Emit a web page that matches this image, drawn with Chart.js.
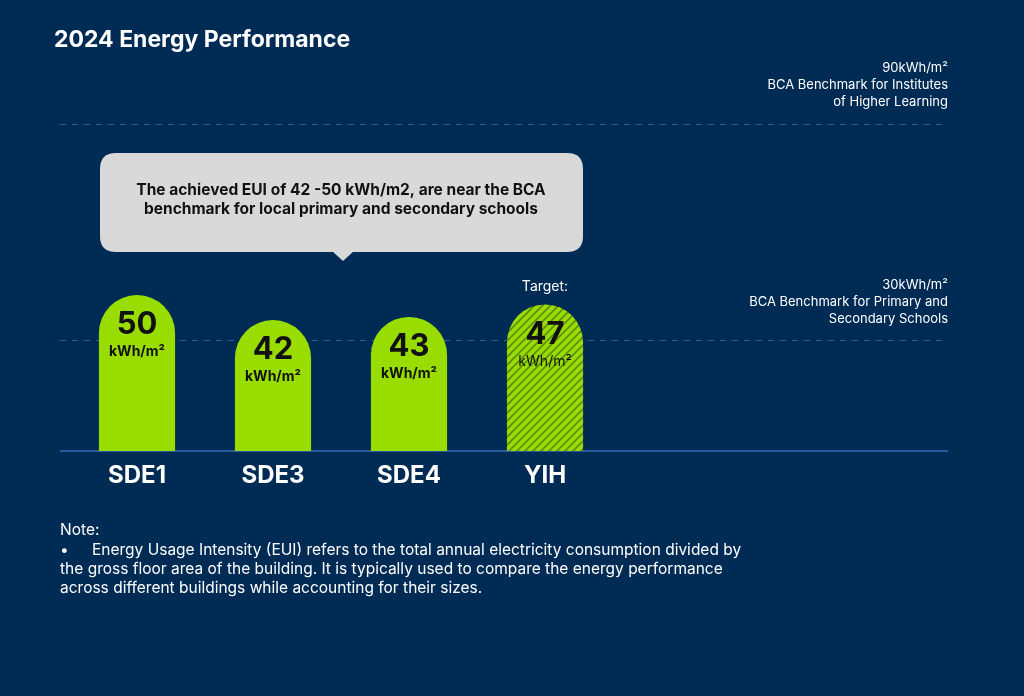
<!DOCTYPE html>
<html><head><meta charset="utf-8">
<script src="https://cdn.jsdelivr.net/npm/chart.js@4"></script>
<style>
body{margin:0;background:#002b55;}
#wrap{position:relative;width:1024px;height:696px;}
</style></head>
<body><div id="wrap"><canvas id="c" width="1024" height="696"></canvas></div>
<script>
const categories = ["SDE1", "SDE3", "SDE4", "YIH"];
const euiValues = [50, 42, 43, 47];
const isTarget = [false, false, false, true];
const benchmarkValues = [90, 30];
const benchmarkPlotAt = [105, 35.5]; // where the line sits on the (non-linear) infographic scale
const benchmarkLabels = [
  ["BCA Benchmark for Institutes", "of Higher Learning"],
  ["BCA Benchmark for Primary and", "Secondary Schools"]
];
const calloutLines = ["The achieved EUI of 42 -50 kWh/m2, are near the BCA", "benchmark for local primary and secondary schools"];
const noteLines = [
  "Energy Usage Intensity (EUI) refers to the total annual electricity consumption divided by",
  "the gross floor area of the building. It is typically used to compare the energy performance",
  "across different buildings while accounting for their sizes."
];

const GREEN = "#99dd00";
const FONT = "Inter, 'Noto Sans', sans-serif";

// hatch for target bar
function hatch(){
  const p = document.createElement("canvas");
  p.width = 8; p.height = 8;
  const g = p.getContext("2d");
  g.fillStyle = GREEN; g.fillRect(0,0,8,8);
  g.strokeStyle = "#5f8a10"; g.lineWidth = 1.6;
  g.beginPath();
  g.moveTo(-2,10); g.lineTo(10,-2);
  g.moveTo(-2,2); g.lineTo(2,-2);
  g.moveTo(6,10); g.lineTo(10,6);
  g.stroke();
  return document.getElementById("c").getContext("2d").createPattern(p,"repeat");
}
const hatchPat = hatch();

function roundRect(ctx,x,y,w,h,r){
  ctx.beginPath();
  ctx.moveTo(x+r,y); ctx.lineTo(x+w-r,y); ctx.quadraticCurveTo(x+w,y,x+w,y+r);
  ctx.lineTo(x+w,y+h-r); ctx.quadraticCurveTo(x+w,y+h,x+w-r,y+h);
  ctx.lineTo(x+r,y+h); ctx.quadraticCurveTo(x,y+h,x,y+h-r);
  ctx.lineTo(x,y+r); ctx.quadraticCurveTo(x,y,x+r,y);
  ctx.closePath();
}

const decor = {
  id: "decor",
  beforeDatasetsDraw(chart){
    const ctx = chart.ctx, y = chart.scales.y;
    ctx.save();
    // baseline
    ctx.strokeStyle = "#2f6db5"; ctx.lineWidth = 1.5;
    ctx.beginPath(); ctx.moveTo(60, y.getPixelForValue(0)); ctx.lineTo(948, y.getPixelForValue(0)); ctx.stroke();
    // benchmark lines
    ctx.setLineDash([6,6]); ctx.strokeStyle = "#2a5e9c"; ctx.lineWidth = 1;
    benchmarkPlotAt.forEach(v=>{
      const py = Math.round(y.getPixelForValue(v))+0.5;
      ctx.beginPath(); ctx.moveTo(60,py); ctx.lineTo(948,py); ctx.stroke();
    });
    ctx.restore();
  },
  afterDatasetsDraw(chart){
    const ctx = chart.ctx, x = chart.scales.x, y = chart.scales.y;
    ctx.save();
    ctx.textAlign = "center"; ctx.textBaseline = "middle";
    const meta = chart.getDatasetMeta(0);
    meta.data.forEach((bar,i)=>{
      const cx = bar.x, top = bar.y;
      ctx.fillStyle = "#111";
      ctx.font = "bold 31px " + FONT;
      ctx.fillText(euiValues[i], cx, top + 30);
      ctx.font = (isTarget[i] ? "" : "bold ") + "14px " + FONT;
      ctx.fillText("kWh/m²", cx, top + 57);
      ctx.fillStyle = "#fff";
      ctx.font = "bold 24px " + FONT;
      ctx.fillText(categories[i], x.getPixelForValue(i), y.getPixelForValue(0) + 25);
      if(isTarget[i]){
        ctx.font = "14px " + FONT;
        ctx.fillText("Target:", cx, top - 18);
      }
    });
    // benchmark labels
    ctx.textAlign = "right"; ctx.fillStyle = "#fff"; ctx.font = "13px " + FONT;
    benchmarkPlotAt.forEach((v,i)=>{
      const py = y.getPixelForValue(v);
      ctx.fillText(benchmarkValues[i] + "kWh/m²", 948, py - 55);
      benchmarkLabels[i].forEach((l,k)=> ctx.fillText(l, 948, py - 38 + k*17));
    });
    // callout
    ctx.fillStyle = "#d9d9d9";
    roundRect(ctx,100,153,483,99,16); ctx.fill();
    ctx.beginPath(); ctx.moveTo(332,251); ctx.lineTo(343,261); ctx.lineTo(354,251); ctx.fill();
    ctx.fillStyle = "#111"; ctx.textAlign = "center"; ctx.font = "bold 15.5px " + FONT;
    calloutLines.forEach((l,k)=> ctx.fillText(l, 341, 190 + k*19));
    // title
    ctx.textAlign = "left"; ctx.fillStyle = "#fff";
    ctx.font = "bold 23px " + FONT;
    ctx.fillText("2024 Energy Performance", 54, 40);
    // note
    ctx.font = "15.5px " + FONT;
    ctx.fillText("Note:", 60, 530);
    ctx.fillText("•", 60, 550);
    ctx.fillText(noteLines[0], 92, 550);
    ctx.fillText(noteLines[1], 60, 569);
    ctx.fillText(noteLines[2], 60, 588);
    ctx.restore();
  }
};

new Chart(document.getElementById("c"), {
  type: "bar",
  data: {
    labels: categories,
    datasets: [{
      data: euiValues,
      backgroundColor: isTarget.map(t => t ? hatchPat : GREEN),
      borderRadius: {topLeft: 38, topRight: 38, bottomLeft: 0, bottomRight: 0},
      borderSkipped: "bottom",
      barPercentage: 0.56,
      categoryPercentage: 1
    }]
  },
  options: {
    responsive: false,
    animation: false,
    layout: {padding: {left: 69, right: 411, top: 108, bottom: 245}},
    plugins: {legend: {display: false}, tooltip: {enabled: false}},
    scales: {
      x: {display: false},
      y: {display: false, min: 0, max: 110}
    }
  },
  plugins: [decor]
});
</script></body></html>
